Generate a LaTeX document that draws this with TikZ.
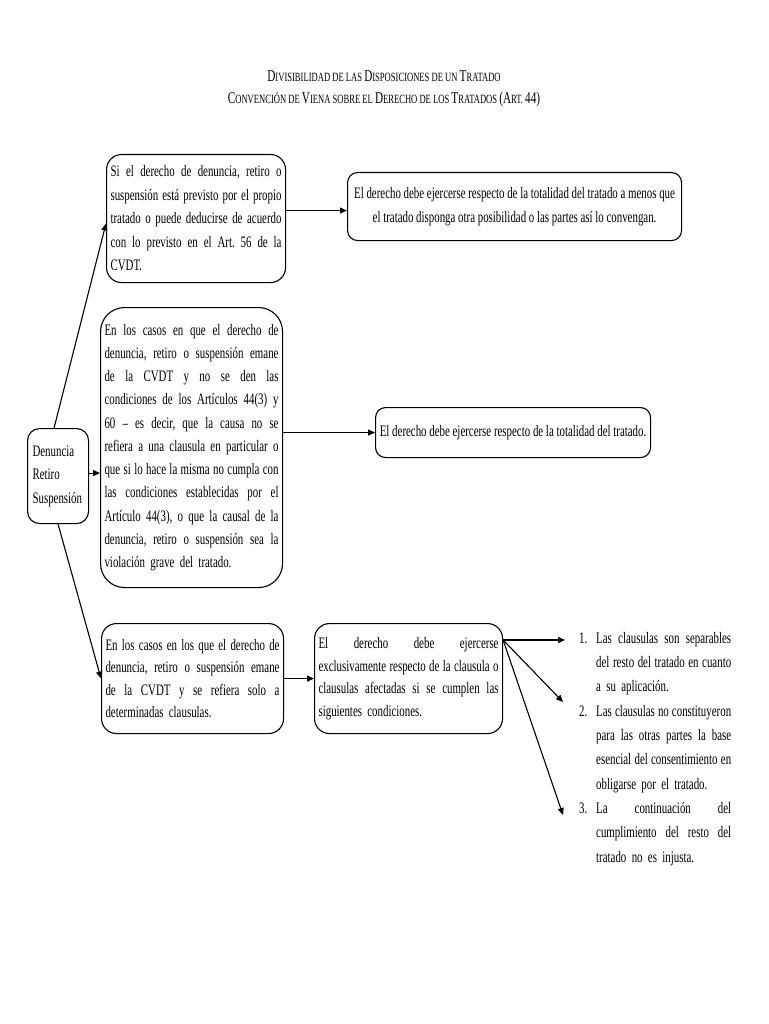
\documentclass[tikz,border=0pt]{standalone}
\usepackage{fontspec}
\setmainfont{Liberation Serif}[FakeStretch=0.68]
\usetikzlibrary{arrows.meta,calc}
\newlength\jw
\newcommand\jl[1]{\leavevmode\hbox to\jw{\spaceskip=\fontdimen2\font plus 1fil minus 0pt\relax\xspaceskip=\spaceskip #1}}
\newcommand\tbig[1]{{\fontsize{16.5}{18}\selectfont #1}}
\newcommand\tsml[1]{{\fontsize{12.6}{18}\selectfont #1}}
\frenchspacing
\tikzset{
  box/.style={draw, line width=1.1pt, anchor=north west, inner xsep=4pt, inner ysep=0pt,
    font=\fontsize{16}{23.5}\selectfont, align=left},
  arr/.style={line width=1.1pt, -{Triangle[length=7pt,width=6pt]}},
  ttl/.style={inner sep=0pt, anchor=base}
}
\begin{document}
\begin{tikzpicture}[x=1pt,y=-1pt]
\useasboundingbox (0,0) rectangle (768,1024);
% title
\node[ttl] (t1) at (384,82) {\tbig{D}\tsml{IVISIBILIDAD DE LAS }\tbig{D}\tsml{ISPOSICIONES DE UN }\tbig{T}\tsml{RATADO}};
\node[ttl] (t2) at (384,104) {\tbig{C}\tsml{ONVENCIÓN DE }\tbig{V}\tsml{IENA SOBRE EL }\tbig{D}\tsml{ERECHO DE LOS }\tbig{T}\tsml{RATADOS }\tbig{(A}\tsml{RT. }\tbig{44)}};
% boxes
\node[box, rounded corners=12pt, minimum width=61pt, minimum height=95pt, text width=51pt] (A) at (27,428)
  {Denuncia\\Retiro\\Suspensión};
\node[box, rounded corners=15pt, minimum width=179pt, minimum height=128pt, text width=171pt] (B1) at (106,154)
  {\setlength\jw{171pt}\jl{Si el derecho de denuncia, retiro o}\\
   \jl{suspensión está previsto por el propio}\\
   \jl{tratado o puede deducirse de acuerdo}\\
   \jl{con lo previsto en el Art. 56 de la}\\
   CVDT.};
\node[box, rounded corners=24pt, minimum width=182pt, minimum height=280pt, text width=174pt,
      font=\fontsize{16}{23.25}\selectfont] (B2) at (100,307)
  {\setlength\jw{174pt}\jl{En los casos en que el derecho de}\\
   \jl{denuncia, retiro o suspensión emane}\\
   \jl{de la CVDT y no se den las}\\
   \jl{condiciones de los Artículos 44(3) y}\\
   \jl{60 – es decir, que la causa no se}\\
   \jl{refiera a una clausula en particular o}\\
   \jl{que si lo hace la misma no cumpla con}\\
   \jl{las condiciones establecidas por el}\\
   \jl{Artículo 44(3), o que la causal de la}\\
   \jl{denuncia, retiro o suspensión sea la}\\
   violación grave del tratado.};
\node[box, rounded corners=15pt, minimum width=182pt, minimum height=110pt, text width=174pt,
      font=\fontsize{16}{22.5}\selectfont] (B3) at (101,623)
  {\setlength\jw{174pt}\jl{En los casos en los que el derecho de}\\
   \jl{denuncia, retiro o suspensión emane}\\
   \jl{de la CVDT y se refiera solo a}\\
   determinadas clausulas.};
\node[box, rounded corners=15pt, minimum width=188pt, minimum height=110pt, text width=180pt,
      font=\fontsize{16}{22.5}\selectfont] (C) at (314,623)
  {\setlength\jw{180pt}\jl{El derecho debe ejercerse}\\
   \jl{exclusivamente respecto de la clausula o}\\
   \jl{clausulas afectadas si se cumplen las}\\
   siguientes condiciones.};
\node[box, rounded corners=10pt, minimum width=334pt, minimum height=68pt, align=center] (R1) at (347,172)
  {El derecho debe ejercerse respecto de la totalidad del tratado a menos que\\
   el tratado disponga otra posibilidad o las partes así lo convengan.};
\node[box, rounded corners=10pt, minimum width=275pt, minimum height=50pt, align=center] (R2) at (375,407)
  {El derecho debe ejercerse respecto de la totalidad del tratado.};
% list
\node[anchor=north west, inner sep=0pt, text width=155pt, align=left, font=\fontsize{16}{24.3}\selectfont] (L) at (579,632)
  {\setlength\jw{135pt}%
   \makebox[17pt][l]{1.}\jl{Las clausulas son separables}\\
   \hspace*{17pt}\jl{del resto del tratado en cuanto}\\
   \hspace*{17pt}a su aplicación.\\
   \makebox[17pt][l]{2.}\jl{Las clausulas no constituyeron}\\
   \hspace*{17pt}\jl{para las otras partes la base}\\
   \hspace*{17pt}\jl{esencial del consentimiento en}\\
   \hspace*{17pt}obligarse por el tratado.\\
   \makebox[17pt][l]{3.}\jl{La continuación del}\\
   \hspace*{17pt}\jl{cumplimiento del resto del}\\
   \hspace*{17pt}tratado no es injusta.};
% connectors
\coordinate (r1t) at ([yshift=-4pt]R1.west);
\draw[arr] (B1.east |- r1t) -- (r1t);
\draw[arr] (B2.east |- R2.west) -- (R2.west);
\draw[arr] ([yshift=3pt]A.east) -- ([yshift=3pt]A.east -| B2.west);
\draw[arr] ([xshift=-4pt]A.north) -- ([yshift=-5pt]B1.west);
\draw[arr] (A.south) -- (B3.west);
\draw[arr] (B3.east) -- (C.west);
\coordinate (co) at ($(C.north east)+(0,17)$);
\coordinate (l1) at (565,640);
\coordinate (l2) at (563,702);
\coordinate (l3) at (563,815);
\draw[arr] (co) -- (l1);
\draw[arr] (co) -- (l2);
\draw[arr] (co) -- (l3);
\end{tikzpicture}
\end{document}
